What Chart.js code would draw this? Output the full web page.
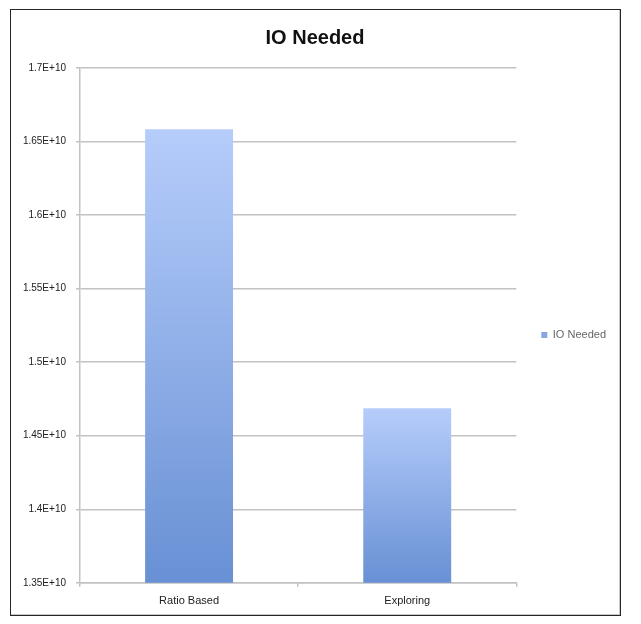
<!DOCTYPE html>
<html>
<head>
<meta charset="utf-8">
<script src="https://cdn.jsdelivr.net/npm/chart.js@4"></script>
<style>
  html, body { margin: 0; padding: 0; background: #fff; }
  #marco {
    position: absolute; left: 10px; top: 9px; width: 611px; height: 607px;
    box-sizing: border-box; border: 1.5px solid #262626;
    box-shadow: inset -1px -1px 0 #c8c8c8;
  }
  #grafico { position: absolute; left: 0; top: 0; }
</style>
</head>
<body>
<div id="marco"></div>
<canvas id="grafico" width="641" height="624"></canvas>
<script>
// --- DATOS ---
const categorias = ["Ratio Based", "Exploring"];
const ioNeeded = [16584000000, 14686000000];
const yTickValues = [13500000000, 14000000000, 14500000000, 15000000000, 15500000000, 16000000000, 16500000000, 17000000000];
const yTickLabels = ["1.35E+10", "1.4E+10", "1.45E+10", "1.5E+10", "1.55E+10", "1.6E+10", "1.65E+10", "1.7E+10"];

const gris = "#c2c2c2";
const fuente = "'Liberation Sans', Arial, sans-serif";

// degradado de cada barra: claro arriba, oscuro abajo
function degradadoBarra(ctx) {
  const chart = ctx.chart;
  const area = chart.chartArea;
  if (!area || ctx.type !== "data") return "#8eabe6";
  const y = chart.scales.y;
  const top = y.getPixelForValue(ctx.raw);
  const g = chart.ctx.createLinearGradient(0, top, 0, area.bottom);
  g.addColorStop(0, "#b6cdfb");
  g.addColorStop(1, "#6890d4");
  return g;
}

new Chart(document.getElementById("grafico"), {
  type: "bar",
  data: {
    labels: categorias,
    datasets: [{
      label: "IO Needed",
      data: ioNeeded,
      backgroundColor: degradadoBarra,
      borderWidth: 0,
      categoryPercentage: 1,
      barPercentage: 0.403
    }]
  },
  options: {
    responsive: false,
    animation: false,
    layout: { padding: { left: 14, right: 25, top: 10, bottom: 8 } },
    plugins: {
      tooltip: { enabled: false },
      title: {
        display: true,
        text: "IO Needed",
        color: "#111",
        font: { family: fuente, size: 20, weight: "bold" },
        padding: { top: 16, bottom: 18 }
      },
      legend: {
        position: "right",
        title: { display: true, text: "", padding: 0, font: { size: 12, lineHeight: "44px" } },
        labels: {
          color: "#222",
          font: { family: fuente, size: 11 },
          boxWidth: 6,
          boxHeight: 6,
          padding: 25,
          generateLabels: (chart) => [{
            text: "IO Needed",
            fillStyle: "#86a6e4",
            strokeStyle: "#86a6e4",
            lineWidth: 0,
            datasetIndex: 0
          }]
        }
      }
    },
    scales: {
      x: {
        offset: true,
        grid: { display: true, drawOnChartArea: false, offset: true, tickLength: 4, color: gris, lineWidth: 1.5 },
        border: { color: gris, width: 1.5 },
        ticks: { color: "#222", font: { family: fuente, size: 11 }, padding: 8 }
      },
      y: {
        min: 13500000000,
        max: 17000000000,
        afterFit: (scale) => { scale.width = 66; },
        afterBuildTicks: (scale) => { scale.ticks = yTickValues.map(v => ({ value: v })); },
        grid: { color: gris, lineWidth: 1.5, tickLength: 4 },
        border: { color: gris, width: 1.5 },
        ticks: {
          color: "#222",
          font: { family: fuente, size: 10 },
          padding: 10,
          callback: (v, i) => yTickLabels[i]
        }
      }
    }
  }
});
</script>
</body>
</html>
